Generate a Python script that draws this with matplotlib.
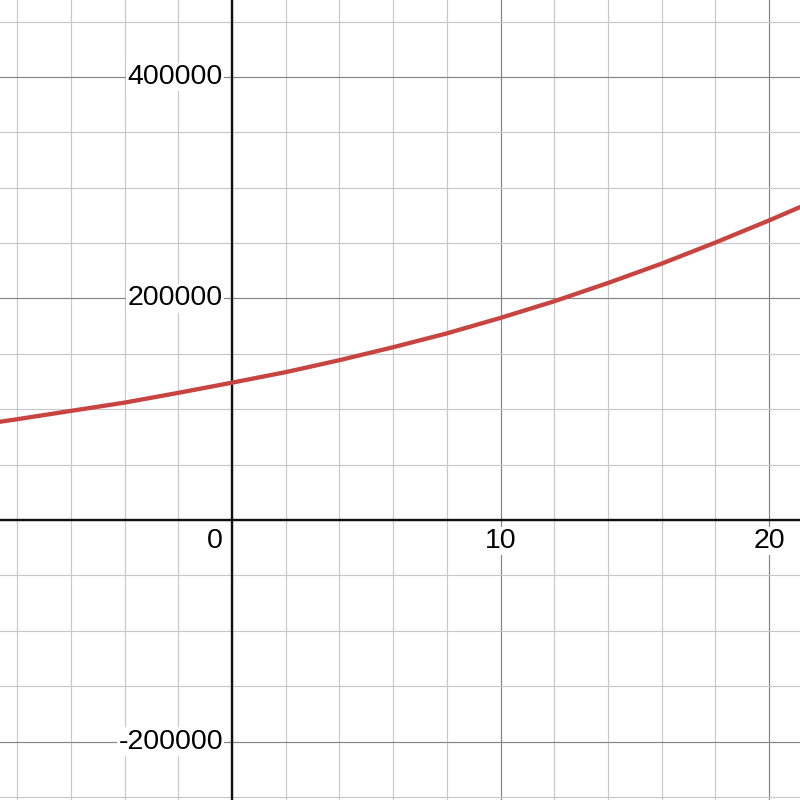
import numpy as np
import matplotlib
matplotlib.use("Agg")
from matplotlib import pyplot as plt

# curve (x, y)
xs = [-8.64, -8, -6, -4, -2, 0, 2, 4, 6, 8, 10, 12, 14, 16, 18, 20, 21.15]
ys = [88700, 91000, 98500, 106000, 114800, 124000, 133500, 144300, 156000,
      168500, 182500, 197500, 214000, 231500, 250500, 270500, 282500]

x_labels = [0, 10, 20]
y_labels = [400000, 200000, -200000]

xmin, xmax = -8.64, 21.15
ymin, ymax = -252800, 469500

plt.rcParams['font.family'] = ['Liberation Sans', 'DejaVu Sans']

fig = plt.figure(figsize=(8, 8), dpi=100)
ax = fig.add_axes([0, 0, 1, 1])
ax.set_xlim(xmin, xmax)
ax.set_ylim(ymin, ymax)
for s in ax.spines.values():
    s.set_visible(False)
ax.set_xticks([])
ax.set_yticks([])

# grid
for gx in np.arange(-8, 22, 2):
    major = gx % 10 == 0
    ax.axvline(gx, color='#858585' if major else '#c8c8c8', lw=0.85, zorder=1)
for gy in np.arange(-250000, 470000, 50000):
    major = gy % 200000 == 0
    ax.axhline(gy, color='#858585' if major else '#c8c8c8', lw=0.85, zorder=1)

ax.axhline(0, color='#111111', lw=1.7, zorder=2)
ax.axvline(0, color='#111111', lw=1.7, zorder=2)

ax.plot(xs, ys, color='#c74440', lw=3.1, solid_capstyle='round', zorder=3)

box = dict(boxstyle='square,pad=0.05', fc='white', ec='none')
for v in x_labels:
    if v == 0:
        ax.annotate('0', (0, 0), xytext=(-9, -8), textcoords='offset pixels',
                    ha='right', va='top', fontsize=20.5, bbox=box, zorder=4)
    else:
        ax.annotate(str(v), (v, 0), xytext=(0, -8), textcoords='offset pixels',
                    ha='center', va='top', fontsize=20.5, bbox=box, zorder=4)
for v in y_labels:
    ax.annotate(str(v), (0, v), xytext=(-9, 0), textcoords='offset pixels',
                ha='right', va='center', fontsize=20.5, bbox=box, zorder=4)

fig.savefig('out.png', dpi=100)
